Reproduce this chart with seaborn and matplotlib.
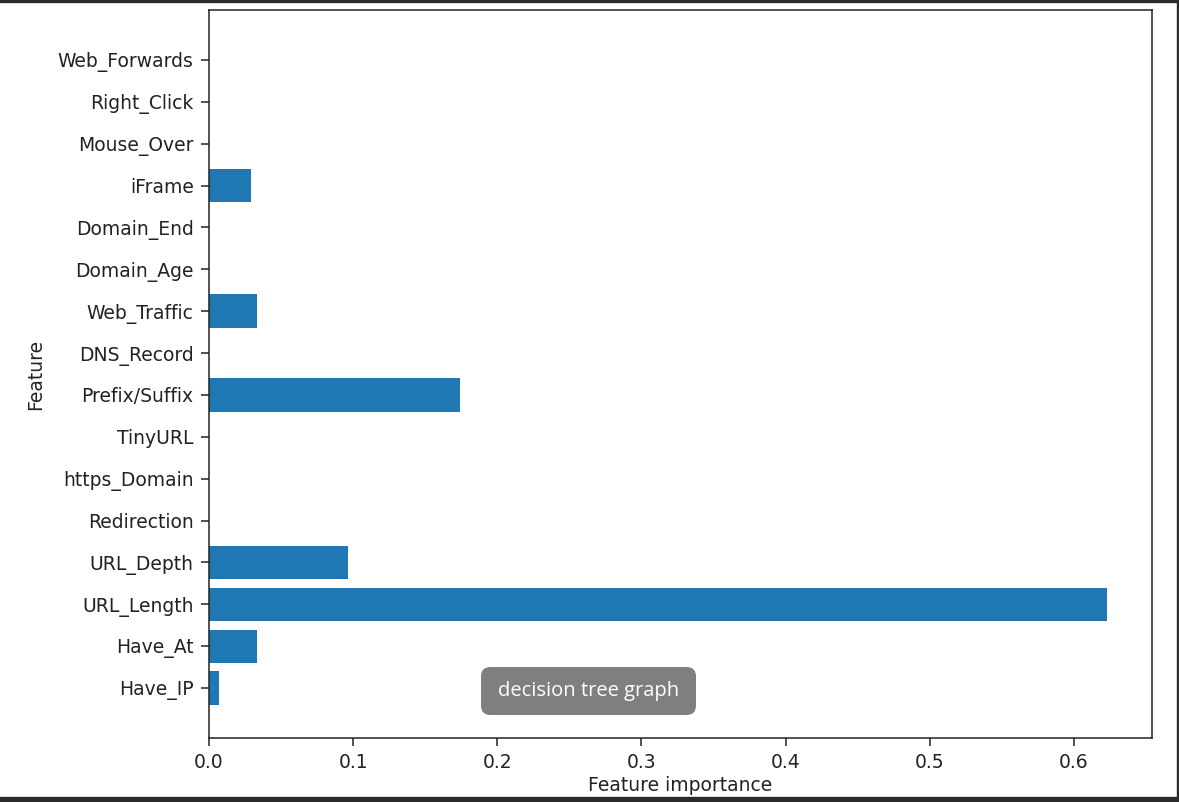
import matplotlib
matplotlib.use("Agg")
import matplotlib.pyplot as plt
from matplotlib.patches import FancyBboxPatch, Rectangle
import seaborn as sns
import pandas as pd

features = ["Have_IP", "Have_At", "URL_Length", "URL_Depth", "Redirection",
            "https_Domain", "TinyURL", "Prefix/Suffix", "DNS_Record", "Web_Traffic",
            "Domain_Age", "Domain_End", "iFrame", "Mouse_Over", "Right_Click",
            "Web_Forwards"]
importance = [0.0072, 0.0335, 0.623, 0.0965, 0.0, 0.0, 0.0, 0.1744, 0.0, 0.0335,
              0.0, 0.0, 0.0289, 0.0, 0.0, 0.0]
x_ticks = [0.0, 0.1, 0.2, 0.3, 0.4, 0.5, 0.6]
overlay_text = "decision tree graph"

plt.rcParams['font.family'] = ['DejaVu Sans']
W, H = 1179, 802
fig = plt.figure(figsize=(W / 100, H / 100), dpi=100)
ax = fig.add_axes([209 / W, (H - 738) / H, (1152 - 209) / W, (738 - 10) / H])

df = pd.DataFrame({"Feature": features, "Importance": importance})
order = features[::-1]
sns.barplot(data=df, x="Importance", y="Feature", order=order, orient="h",
            color="#1f77b4", saturation=1, width=0.8, ax=ax)

n = len(features)
ax.set_ylim(n - 1 + 0.4 + 0.79, -0.4 - 0.79)
ax.set_xlim(0, max(importance) * 1.05)
ax.set_xticks(x_ticks)
ax.set_xticklabels([f"{t:.1f}" for t in x_ticks])
ax.set_xlabel("Feature importance", fontsize=13.5, color="#222222", labelpad=3)
ax.set_ylabel("Feature", fontsize=13.5, color="#222222", labelpad=9)
ax.tick_params(axis="both", labelsize=13.5, length=6, width=1.1, colors="#222222",
               labelcolor="#222222", pad=5)
for s in ax.spines.values():
    s.set_linewidth(1.1)
    s.set_color("#222222")

# screenshot frame edges
fig.patches.append(Rectangle((0, 1 - 2 / H), 1, 2 / H, transform=fig.transFigure,
                             color="#2b2b2b", zorder=10))
fig.patches.append(Rectangle((0, 0), 1, 5 / H, transform=fig.transFigure,
                             color="#2b2b2b", zorder=10))
fig.patches.append(Rectangle((1 - 2 / W, 0), 2 / W, 1, transform=fig.transFigure,
                             color="#2b2b2b", zorder=10))

# tooltip overlay
bx0, bx1, by0, by1 = 481, 696, 667, 715
fig.patches.append(FancyBboxPatch((bx0 / W, (H - by1) / H), (bx1 - bx0) / W, (by1 - by0) / H,
                                  boxstyle="round,pad=0,rounding_size=0.008",
                                  transform=fig.transFigure, facecolor="#7f7f7f",
                                  edgecolor="none", zorder=11, mutation_aspect=W / H))
fig.text((bx0 + bx1) / 2 / W, (H - (by0 + by1) / 2) / H, overlay_text,
         ha="center", va="center", color="white", fontsize=14.5,
         family=["Open Sans", "DejaVu Sans"], zorder=12)

fig.savefig("out.png", dpi=100)
